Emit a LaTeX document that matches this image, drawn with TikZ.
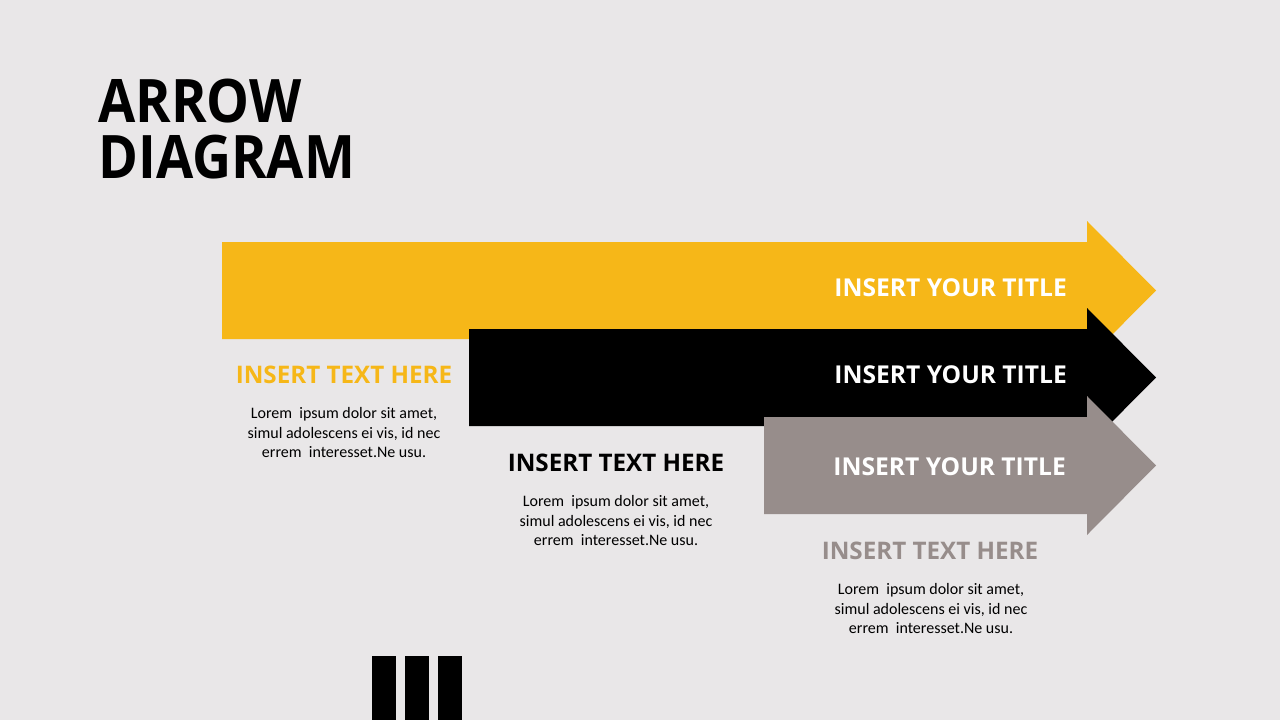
\documentclass[tikz,border=0pt]{standalone}
\usepackage{fontspec}
\setmainfont{Carlito}
\newfontfamily\headfont{Open Sans}
\newfontfamily\bigfont[FakeStretch=0.9]{Open Sans}
\usetikzlibrary{positioning}
\definecolor{bgray}{HTML}{E9E7E8}
\definecolor{ayellow}{HTML}{F6B718}
\definecolor{agray}{HTML}{978D8B}
\tikzset{
  titlebig/.style={font=\bigfont\bfseries\fontsize{60}{57}\selectfont, inner sep=0pt, anchor=base west},
  arrowtitle/.style={font=\headfont\bfseries\fontsize{24.6}{30}\selectfont, text=white, inner sep=0pt, anchor=base east},
  texthead/.style={font=\headfont\bfseries\fontsize{24.2}{28}\selectfont, inner sep=0pt, anchor=base},
  lorem/.style={font=\fontsize{16}{19.5}\selectfont, align=center, inner sep=0pt}
}
\begin{document}
\begin{tikzpicture}[x=1pt,y=-1pt]
\fill[bgray] (0,0) rectangle (1280,720);
\useasboundingbox (0,0) rectangle (1280,720);
\node[titlebig] (line1) at (98,122) {ARROW};
\node[titlebig] (line2) at (98,178) {DIAGRAM};
\foreach \x/\y/\col in {222/242/ayellow,469/329/black,764/417/agray}
\fill[\col] (\x,\y) -- (1087,\y) -- (1087,\y-21) -- (1156,\y+48.5) -- (1087,\y+118) -- (1087,\y+97) -- (\x,\y+97) -- cycle;
\node[arrowtitle] (title1) at (1067,296) {INSERT YOUR TITLE};
\node[arrowtitle] (title2) at (1067,383) {INSERT YOUR TITLE};
\node[arrowtitle] (title3) at (1066,475) {INSERT YOUR TITLE};
\node[texthead, text=ayellow] (head1) at (344,383) {INSERT TEXT HERE};
\node[texthead, text=black] (head2) at (616,471) {INSERT TEXT HERE};
\node[texthead, text=agray] (head3) at (930,559) {INSERT TEXT HERE};
\node[lorem] (text1) at (344,433) {Lorem\ \ ipsum dolor sit amet,\\simul adolescens ei vis, id nec\\errem\ \ interesset.Ne usu.};
\node[lorem] (text2) at (616,521) {Lorem\ \ ipsum dolor sit amet,\\simul adolescens ei vis, id nec\\errem\ \ interesset.Ne usu.};
\node[lorem] (text3) at (931,609) {Lorem\ \ ipsum dolor sit amet,\\simul adolescens ei vis, id nec\\errem\ \ interesset.Ne usu.};
\foreach \x in {372,405,438}
\fill[black] (\x,656) rectangle +(24,64);
\end{tikzpicture}
\end{document}
